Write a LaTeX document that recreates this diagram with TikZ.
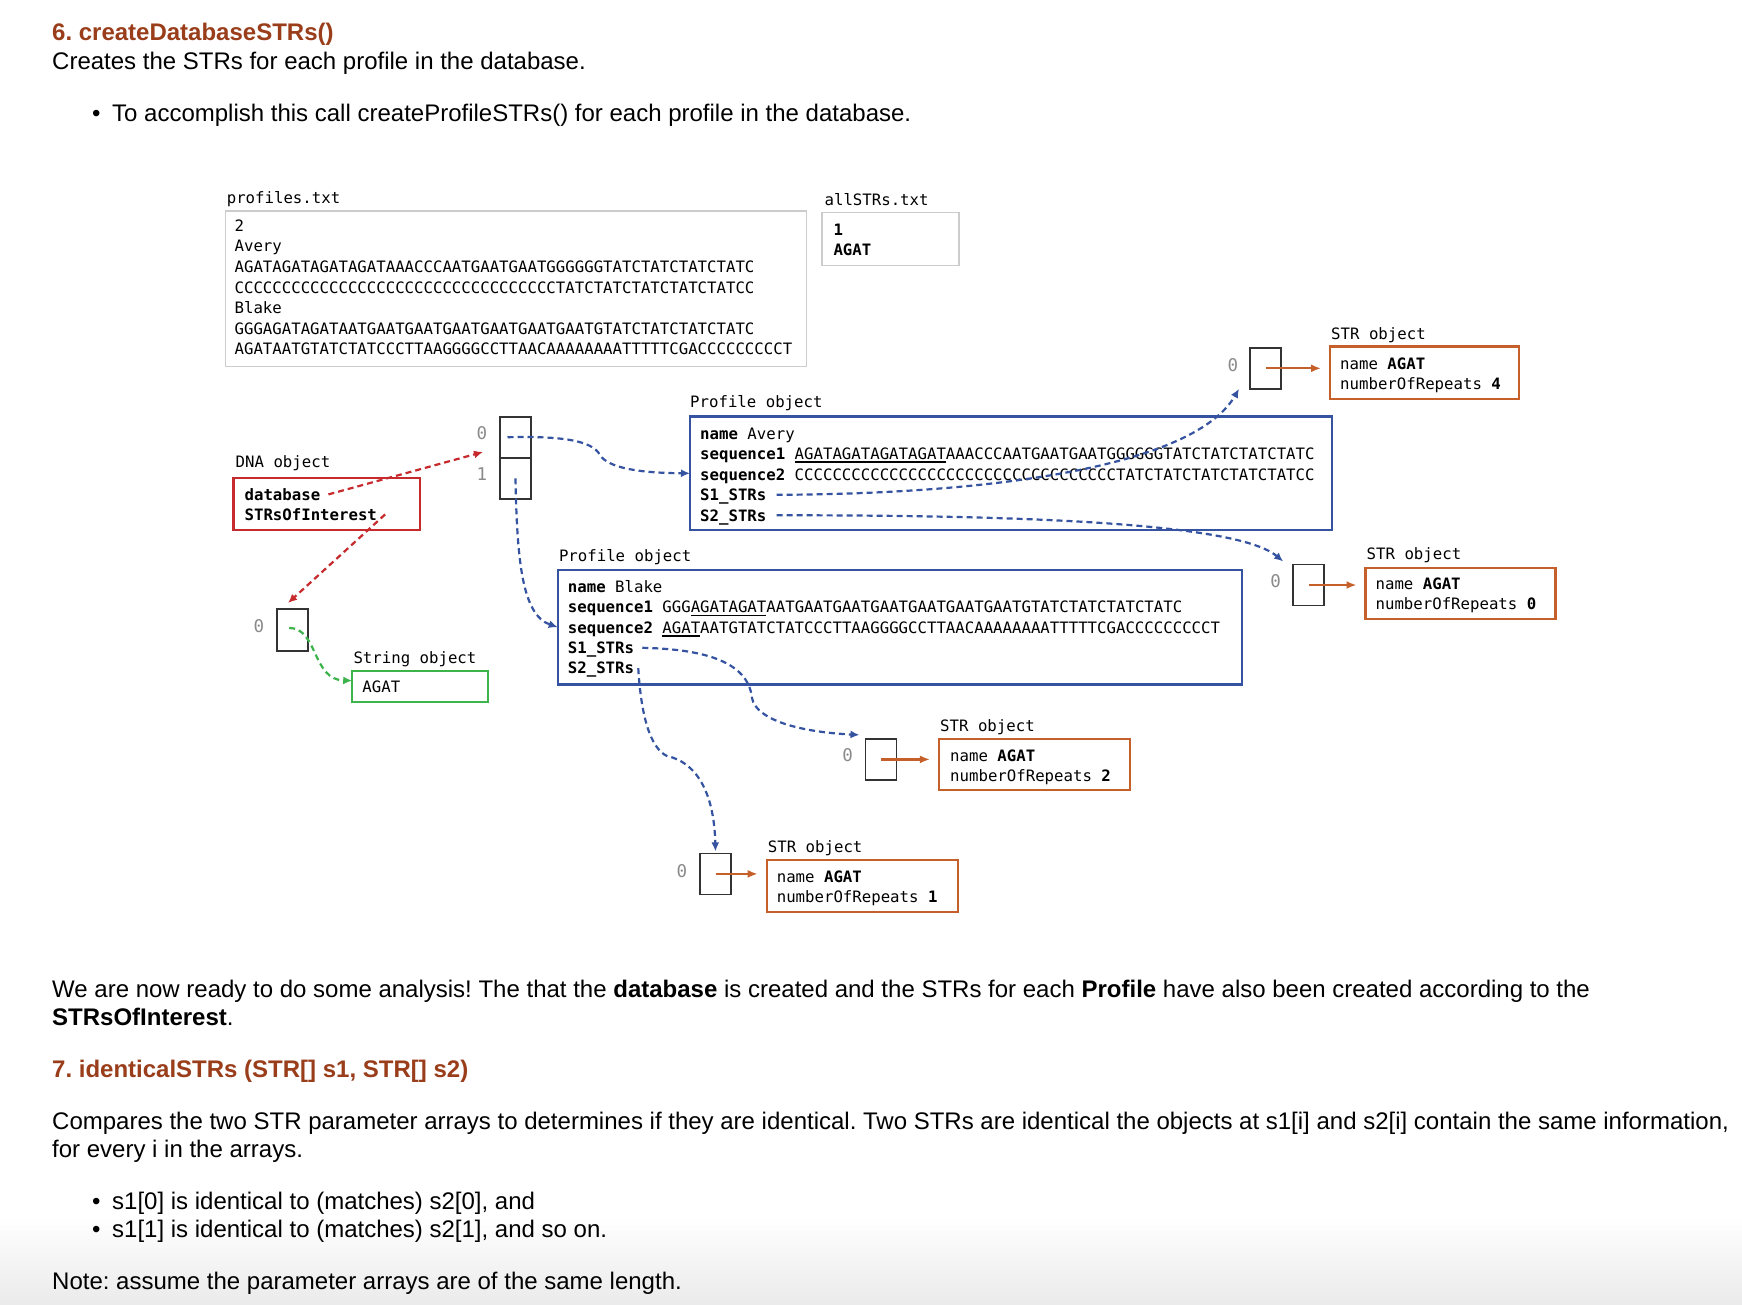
\documentclass[tikz,border=0pt]{standalone}
\usepackage{fontspec}
\setmainfont{Liberation Sans}
\newfontfamily\codefont{DejaVu Sans Mono}
\usetikzlibrary{arrows.meta,calc}
\frenchspacing
\definecolor{hbrown}{HTML}{993D1A}
\definecolor{dnared}{HTML}{C62A2D}
\definecolor{ablue}{HTML}{3553A0}
\definecolor{sorange}{HTML}{C5602A}
\definecolor{sgreen}{HTML}{3CB44B}
\definecolor{txtgray}{HTML}{8A8A8A}
\newcommand\myul[1]{\setbox0\hbox{#1}\rlap{\rule[-3.5pt]{\wd0}{1.6pt}}\box0}
\tikzset{
  body/.style={anchor=west, inner sep=0pt, font=\fontsize{24}{28}\selectfont, text height=17.2pt, text depth=0pt},
  bodyb/.style={body, font=\fontsize{24}{28}\selectfont\bfseries, text=hbrown},
  code/.style={anchor=west, inner sep=0pt, font=\codefont\fontsize{15.7}{20}\selectfont, text height=11.4pt, text depth=0pt},
  idx/.style={inner sep=0pt, font=\codefont\fontsize{17.5}{20}\selectfont, text=txtgray},
  objbox/.style={draw=#1, line width=2.4pt, inner sep=0pt, outer sep=0pt},
  filebox/.style={draw=black!20, line width=1.5pt, inner sep=0pt, outer sep=0pt},
  cell/.style={draw=black!80, line width=1.6pt, minimum width=31pt, minimum height=41pt, inner sep=0pt, outer sep=0pt},
  ptr/.style={draw=ablue, line width=2.2pt, dash pattern=on 6pt off 4pt, -{Latex[length=9pt,width=8pt]}},
  redptr/.style={draw=dnared, line width=2.2pt, dash pattern=on 6pt off 4pt, -{Latex[length=9pt,width=8pt]}},
  greenptr/.style={draw=sgreen, line width=2.2pt, dash pattern=on 6pt off 4pt, -{Latex[length=9pt,width=8pt]}},
  optr/.style={draw=sorange, line width=2.2pt, -{Latex[length=10pt,width=8pt]}, shorten >=9pt},
}
\begin{document}
\begin{tikzpicture}[x=1pt,y=-1pt]
\useasboundingbox (0,0) rectangle (1742,1304);
\fill[white] (0,0) rectangle (1742,1304);
\shade[top color=white, bottom color=black!8] (0,1215) rectangle (1742,1304);

% ---------- header text ----------
\node[bodyb] (h6) at (52,32) {6. createDatabaseSTRs()};
\node[body] (l1) at (52,61) {Creates the STRs for each profile in the database.};
\node[body] (bu1) at (92,113) {•};
\node[body] (l2) at (112,113) {To accomplish this call createProfileSTRs() for each profile in the database.};

% ---------- files ----------
\node[code] (pfLab) at (226.6,197.8) {profiles.txt};
\node[filebox, minimum width=581pt, minimum height=155.5pt] (pf) at (516,288.9) {};
\node[code] (pf1) at (234.4,225.5) {2};
\node[code] (pf2) at (234.4,246.1) {Avery};
\node[code] (pf3) at (234.4,266.7) {AGATAGATAGATAGATAAACCCAATGAATGAATGGGGGGTATCTATCTATCTATC};
\node[code] (pf4) at (234.4,287.3) {CCCCCCCCCCCCCCCCCCCCCCCCCCCCCCCCCCTATCTATCTATCTATCTATCC};
\node[code] (pf5) at (234.4,307.9) {Blake};
\node[code] (pf6) at (234.4,328.5) {GGGAGATAGAT{}AATGAATGAATGAATGAATGAATGAATG{}TATCTATCTATCTATC};
\node[code] (pf7) at (234.4,349.1) {AGATAATGTATCTATCCCTTAAGGGGCCTTAACAAAAAAAATTTTTCGACCCCCCCCCT};

\node[code] (asLab) at (824.4,200) {allSTRs.txt};
\node[filebox, minimum width=136.8pt, minimum height=53.3pt] (as) at (890.4,238.9) {};
\node[code, font=\codefont\fontsize{15.7}{20}\selectfont\bfseries] (as1) at (833.3,230) {1};
\node[code, font=\codefont\fontsize{15.7}{20}\selectfont\bfseries] (as2) at (833.3,250) {AGAT};

% ---------- database array ----------
\node[cell] (db0) at (515.5,437.2) {};
\node[cell] (db1) at (515.5,478.3) {};
\node[idx] (db0i) at (482,433.3) {0};
\node[idx] (db1i) at (482,474.4) {1};
\coordinate (dbIn) at (483,452);

% ---------- DNA object ----------
\node[code] (dnaLab) at (235.5,462.2) {DNA object};
\node[objbox=dnared, minimum width=186.7pt, minimum height=52.3pt] (dna) at (326.7,503.9) {};
\node[code] (dnaDb) at (244.4,494.4) {\bfseries database};
\node[code] (dnaSoi) at (244.4,514.4) {\bfseries STRsOfInterest};

% ---------- STRsOfInterest array + String ----------
\node[cell, minimum height=42pt] (soi0) at (292.2,629.9) {};
\node[idx] (soi0i) at (258.9,626.6) {0};
\coordinate (soiIn) at (288,603);
\node[code] (strObjLab) at (353.3,657.7) {String object};
\node[objbox=sgreen, minimum width=135.5pt, minimum height=31.2pt] (strObj) at (420,686.6) {};
\node[code] (strObjT) at (362.2,686.6) {AGAT};

% ---------- Avery profile ----------
\node[code] (avLab) at (690,402.2) {Profile object};
\node[objbox=ablue, minimum width=642pt, minimum height=113.4pt] (avery) at (1011,473.3) {};
\node[code] (avName) at (700,433.3) {\textbf{name} Avery};
\node[code] (avSeq1) at (700,453.8) {\textbf{sequence1} \myul{AGATAGATAGATAGAT}AAACCCAATGAATGAATGGGGGGTATCTATCTATCTATC};
\node[code] (avSeq2) at (700,474.3) {\textbf{sequence2} CCCCCCCCCCCCCCCCCCCCCCCCCCCCCCCCCCTATCTATCTATCTATCTATCC};
\node[code] (avS1) at (700,494.8) {\bfseries S1\_STRs};
\node[code] (avS2) at (700,515.3) {\bfseries S2\_STRs};

% ---------- Blake profile ----------
\node[code] (blLab) at (558.8,555.5) {Profile object};
\node[objbox=ablue, minimum width=684.3pt, minimum height=114.4pt] (blake) at (899.9,627.2) {};
\node[code] (blName) at (567.7,586.6) {\textbf{name} Blake};
\node[code] (blSeq1) at (567.7,607) {\textbf{sequence1} GGG\myul{AGATAGAT}AATGAATGAATGAATGAATGAATGAATG{}TATCTATCTATCTATC};
\node[code] (blSeq2) at (567.7,627.4) {\textbf{sequence2} \myul{AGAT}AATGTATCTATCCCTTAAGGGGCCTTAACAAAAAAAATTTTTCGACCCCCCCCCT};
\node[code] (blS1) at (567.7,647.8) {\bfseries S1\_STRs};
\node[code] (blS2) at (567.7,668.2) {\bfseries S2\_STRs};

% ---------- STR A (Avery S1) ----------
\node[cell] (strAc) at (1265.5,368.3) {};
\node[idx] (strAi) at (1233,365.5) {0};
\node[code] (strALab) at (1331,333.3) {STR object};
\node[objbox=sorange, minimum width=188.8pt, minimum height=52.3pt] (strA) at (1424.4,372.8) {};
\node[code] (strA1) at (1340,363.3) {name \textbf{AGAT}};
\node[code] (strA2) at (1340,383.3) {numberOfRepeats \textbf{4}};

% ---------- STR B (Avery S2) ----------
\node[cell] (strBc) at (1308.7,585) {};
\node[idx] (strBi) at (1275.5,581) {0};
\node[code] (strBLab) at (1366.5,553.3) {STR object};
\node[objbox=sorange, minimum width=190pt, minimum height=51pt] (strB) at (1460.5,593.3) {};
\node[code] (strB1) at (1375.4,583.3) {name \textbf{AGAT}};
\node[code] (strB2) at (1375.4,603.3) {numberOfRepeats \textbf{0}};

% ---------- STR C (Blake S1) ----------
\node[cell] (strCc) at (881,759.4) {};
\node[idx] (strCi) at (847.7,755.5) {0};
\node[code] (strCLab) at (940,725.5) {STR object};
\node[objbox=sorange, minimum width=191pt, minimum height=51.2pt] (strC) at (1034.4,764.4) {};
\node[code] (strC1) at (950,755.5) {name \textbf{AGAT}};
\node[code] (strC2) at (950,775.5) {numberOfRepeats \textbf{2}};

% ---------- STR D (Blake S2) ----------
\node[cell] (strDc) at (715.5,873.9) {};
\node[idx] (strDi) at (682,871) {0};
\node[code] (strDLab) at (767.7,846.6) {STR object};
\node[objbox=sorange, minimum width=191pt, minimum height=52pt] (strD) at (862.2,886) {};
\node[code] (strD1) at (776.6,876.6) {name \textbf{AGAT}};
\node[code] (strD2) at (776.6,896.6) {numberOfRepeats \textbf{1}};

% ---------- connectors ----------
\draw[redptr] ([xshift=8pt]dnaDb.east) -- (dbIn);
\draw[redptr] ([xshift=8pt]dnaSoi.east) -- (soiIn);
\draw[greenptr] ([xshift=-3pt,yshift=2pt]soi0.center) .. controls (318,628) and (312,680) .. ([yshift=6pt]strObj.west);

\draw[ptr] ([xshift=-8pt]db0.center) .. controls (560,436) and (592,440) .. (600,455) .. controls (608,468) and (640,473) .. (avery.west);
\draw[ptr] (db1.center) .. controls (517,560) and (522,615) .. (blake.west);
\draw[ptr] ([xshift=10pt]avS1.east) .. controls (1000,494) and (1195,465) .. ([xshift=-11pt]strAc.south west);
\draw[ptr] ([xshift=10pt]avS2.east) .. controls (1050,515) and (1240,525) .. ([xshift=-10pt,yshift=3pt]strBc.north west);
\draw[ptr] ([xshift=8pt]blS1.east) .. controls (700,649) and (748,660) .. (752,698) .. controls (756,720) and (800,732) .. ([xshift=-6pt,yshift=4pt]strCc.north west);
\draw[ptr] ([xshift=4pt]blS2.east) .. controls (641,715) and (650,748) .. (667,756) .. controls (695,762) and (714,790) .. ([yshift=2pt]strDc.north);

\draw[optr] (strAc.center) -- (strAc.center -| strA.west);
\draw[optr] (strBc.center) -- (strBc.center -| strB.west);
\draw[optr] (strCc.center) -- (strCc.center -| strC.west);
\draw[optr] (strDc.center) -- (strDc.center -| strD.west);

% ---------- bottom text ----------
\node[body] (p1) at (52,989) {We are now ready to do some analysis! The that the \textbf{database} is created and the STRs for each \textbf{Profile} have also been created according to the};
\node[body] (p2) at (52,1017) {\textbf{STRsOfInterest}.};
\node[bodyb] (h7) at (52,1069) {7. identicalSTRs (STR[] s1, STR[] s2)};
\node[body] (c1) at (52,1121) {Compares the two STR parameter arrays to determines if they are identical. Two STRs are identical the objects at s1[i] and s2[i] contain the same information,};
\node[body] (c2) at (52,1149) {for every i in the arrays.};
\node[body] (bu2) at (92,1201) {•};
\node[body] (b1) at (112,1201) {s1[0] is identical to (matches) s2[0], and};
\node[body] (bu3) at (92,1229) {•};
\node[body] (b2) at (112,1229) {s1[1] is identical to (matches) s2[1], and so on.};
\node[body] (note) at (52,1281) {Note: assume the parameter arrays are of the same length.};
\end{tikzpicture}
\end{document}
